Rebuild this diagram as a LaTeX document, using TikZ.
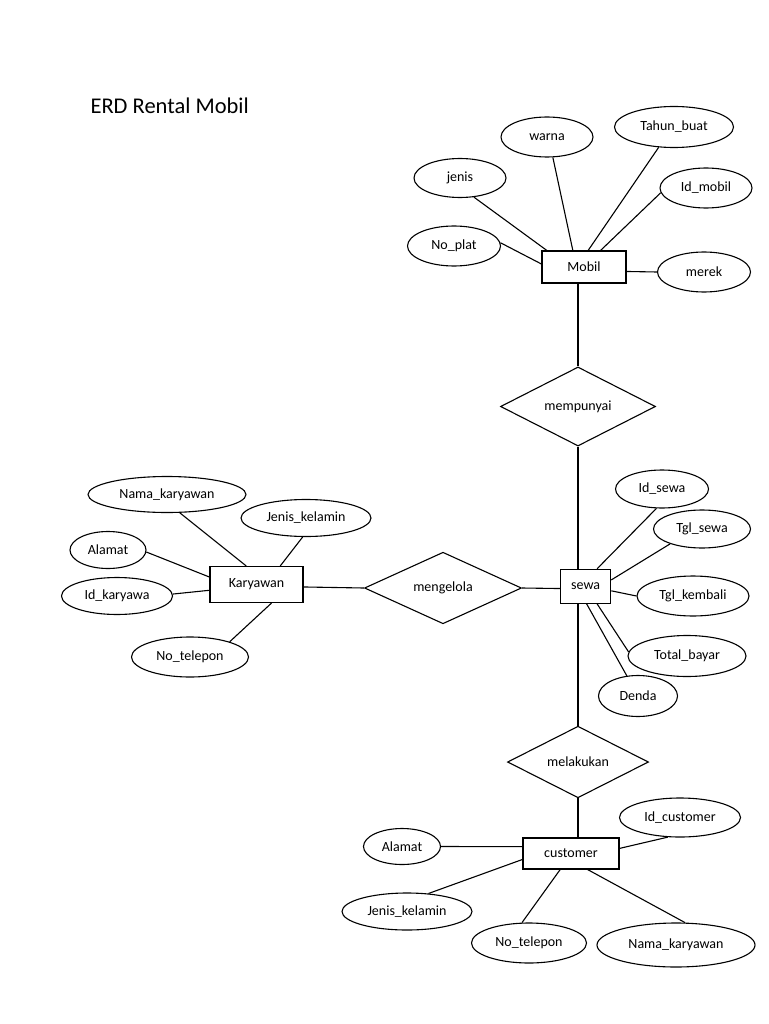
\documentclass[tikz,border=0pt]{standalone}
\usepackage{fontspec}
\setmainfont{Carlito}
\usetikzlibrary{shapes.geometric}

\tikzset{
  entity/.style 2 args={draw, rectangle, inner sep=0pt, minimum width=#1, minimum height=#2},
  attr/.style 2 args={draw, ellipse, inner sep=0pt, minimum width=#1, minimum height=#2},
  rel/.style 2 args={draw, diamond, inner sep=0pt, minimum width=#1, minimum height=#2}
}

\begin{document}
\begin{tikzpicture}[x=1pt, y=-1pt, line width=1.1pt, font=\fontsize{14}{16}\selectfont]
    \useasboundingbox (0,0) rectangle (768,1024);
    \node[anchor=base west, inner sep=0pt, font=\fontsize{22.5}{26}\selectfont] (title) at (90,114) {ERD Rental Mobil};

    % Mobil
    \node[entity={84}{32}] (mobil) at (584,267) {Mobil};
    \node[attr={93}{40}] (noplat) at (454,246) {No\_plat};
    \node[attr={92}{39}] (jenis) at (460,178) {jenis};
    \node[attr={92}{40}] (warna) at (547,137) {warna};
    \node[attr={119}{41}] (tahun) at (674,127) {Tahun\_buat};
    \node[attr={92}{40}] (idmobil) at (706,188) {Id\_mobil};
    \node[attr={93}{40}] (merek) at (704,272) {merek};
    \draw (noplat.4) -- (mobil.176);
    \draw (jenis.-54) -- (mobil.156);
    \draw (warna.-74) -- (mobil.124);
    \draw (tahun.-127) -- (mobil.76);
    \draw (idmobil.186) -- (mobil.45);
    \draw (merek.180) -- (mobil.-6);

    \node[rel={155}{53}] (mempunyai) at (578,406.5) {mempunyai};
    \draw (mobil.south -| mempunyai) -- (mempunyai.north);

    % Karyawan
    \node[entity={93}{36}] (karyawan) at (256.5,584.5) {Karyawan};
    \node[attr={158}{36}] (namakar) at (167,494.5) {Nama\_karyawan};
    \node[attr={130}{37}] (jkkar) at (306,518) {Jenis\_kelamin};
    \node[attr={76}{37}] (alamatkar) at (108,550) {Alamat};
    \node[attr={111}{37}] (idkar) at (117,596) {Id\_karyawa};
    \node[attr={117}{40}] (telpkar) at (190,657) {No\_telepon};
    \draw (namakar.-55) -- (karyawan.119);
    \draw (jkkar.-100) -- (karyawan.38);
    \draw (alamatkar.-3) -- (karyawan.171);
    \draw (idkar.2) -- (karyawan.-173);
    \draw (telpkar.21) -- (karyawan.-51);

    \node[rel={157}{59}] (mengelola) at (443,588) {mengelola};

    % sewa
    \node[entity={50}{34}] (sewa) at (585.7,586.3) {sewa};
    \node[attr={93}{38}] (idsewa) at (662,489) {Id\_sewa};
    \node[attr={97}{38}] (tglsewa) at (702,529) {Tgl\_sewa};
    \node[attr={112}{40}] (tglkembali) at (693,596) {Tgl\_kembali};
    \node[attr={118}{41}] (total) at (687,656) {Total\_bayar};
    \node[attr={79}{41}] (denda) at (638,696) {Denda};
    \draw (idsewa.-106) -- (sewa.57);
    \draw (tglsewa.-155) -- (sewa.14);
    \draw (tglkembali.180) -- (sewa.-10);
    \draw (total.176) -- (sewa.-57);
    \draw (denda.119) -- (sewa.-87);

    \draw (karyawan.-3) -- (mengelola.west);
    \draw (mengelola.east) -- (sewa.185);
    \draw (mempunyai.south) -- (mempunyai |- sewa.north);

    \node[rel={141}{52}] (melakukan) at (578,762) {melakukan};
    \draw (melakukan |- sewa.south) -- (melakukan.north);

    % customer
    \node[entity={96}{31}] (customer) at (571,853.5) {customer};
    \node[attr={77}{36}] (alamatcus) at (402,846.5) {Alamat};
    \node[attr={121}{39}] (idcus) at (680,817.5) {Id\_customer};
    \node[attr={130}{37}] (jkcus) at (407,911.5) {Jenis\_kelamin};
    \node[attr={115}{40}] (telpcus) at (529,943) {No\_telepon};
    \node[attr={158}{44}] (namacus) at (676,945) {Nama\_karyawan};
    \draw (melakukan.south) -- (melakukan |- customer.north);
    \draw (alamatcus.0) -- (customer.172);
    \draw (idcus.-122) -- (customer.6.5);
    \draw (jkcus.40) -- (customer.-173);
    \draw (telpcus.109) -- (customer.-124);
    \draw (namacus.68) -- (customer.-44);
\end{tikzpicture}
\end{document}
